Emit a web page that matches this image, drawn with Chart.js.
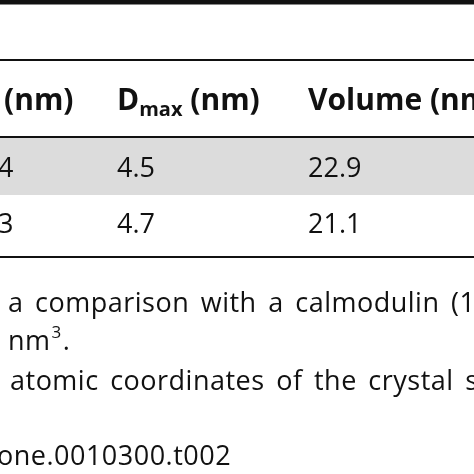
<!DOCTYPE html>
<html><head><meta charset="utf-8">
<script src="https://cdn.jsdelivr.net/npm/chart.js@4"></script>
<style>html,body{margin:0;padding:0;background:#fff}#w{width:474px;height:474px;position:relative}</style>
</head><body><div id="w"><canvas id="c"></canvas></div>
<script>
// Table content
const headers = ["(nm)", "D|max| (nm)", "Volume (nm"];
const row1 = ["4", "4.5", "22.9"];
const row2 = ["3", "4.7", "21.1"];
const footnotes = ["a comparison with a calmodulin (1", "nm^3.", "atomic coordinates of the crystal st", "one.0010300.t002"];

// Layout (pixel positions in the 474 space)
const colX = [4, 117, 308];
const rowBase = [110, 177, 233];
const footX = [8, 8, 10, -3];
const footBase = [312, 350, 390, 465];
const rules = [{y:2,w:5},{y:60,w:2},{y:137,w:2},{y:257,w:2}];
const band = {y0:138, y1:195};

const FONT = '"Open Sans", "Noto Sans", sans-serif';

const tablePlugin = {
  id: 'table',
  afterDraw(chart) {
    const ctx = chart.ctx, xs = chart.scales.x, ys = chart.scales.y;
    const X = v => xs.getPixelForValue(v), Y = v => ys.getPixelForValue(v);
    ctx.save();
    ctx.fillStyle = '#dcdcdc';
    ctx.fillRect(X(0), Y(band.y0), X(474) - X(0), Y(band.y1) - Y(band.y0));
    ctx.strokeStyle = '#111';
    rules.forEach(r => { ctx.lineWidth = r.w; ctx.beginPath(); ctx.moveTo(X(0), Y(r.y)); ctx.lineTo(X(474), Y(r.y)); ctx.stroke(); });
    ctx.fillStyle = '#111';
    ctx.textBaseline = 'alphabetic';
    ctx.textAlign = 'left';
    // headers (bold, with subscript)
    ctx.wordSpacing = '8px';
    headers.forEach((h, i) => {
      let x = X(colX[i]); const y = Y(rowBase[0]);
      const parts = h.split('|');
      parts.forEach((p, j) => {
        if (j % 2 === 1) { ctx.font = 'bold 20px ' + FONT; ctx.fillText(p, x, y + 6); x += ctx.measureText(p).width; }
        else { ctx.font = 'bold 30px ' + FONT; ctx.fillText(p, x, y); x += ctx.measureText(p).width; }
      });
    });
    ctx.wordSpacing = '0px';
    ctx.font = '27px ' + FONT;
    row1.forEach((t, i) => ctx.fillText(t, X(colX[i] - (i === 0 ? 6 : 0)), Y(rowBase[1])));
    row2.forEach((t, i) => ctx.fillText(t, X(colX[i] - (i === 0 ? 6 : 0)), Y(rowBase[2])));
    ctx.wordSpacing = '4px';
    ctx.letterSpacing = '0.5px';
    footnotes.forEach((f, i) => {
      let x = X(footX[i]); const y = Y(footBase[i]);
      const m = f.split('^');
      ctx.font = '27px ' + FONT; ctx.fillText(m[0], x, y); x += ctx.measureText(m[0]).width;
      if (m.length > 1) {
        ctx.font = '17px ' + FONT; ctx.fillText(m[1][0], x + 1, y - 12); x += ctx.measureText(m[1][0]).width + 2;
        ctx.font = '27px ' + FONT; ctx.fillText(m[1].slice(1), x, y);
      }
    });
    ctx.restore();
  }
};

new Chart(document.getElementById('c'), {
  type: 'scatter',
  data: { datasets: [{ data: [], pointRadius: 0 }] },
  options: {
    responsive: true, maintainAspectRatio: false, animation: false,
    layout: { padding: 0 },
    plugins: { legend: { display: false }, tooltip: { enabled: false } },
    scales: {
      x: { type: 'linear', min: 0, max: 474, display: false },
      y: { type: 'linear', min: 0, max: 474, reverse: true, display: false }
    }
  },
  plugins: [tablePlugin]
});
</script></body></html>
